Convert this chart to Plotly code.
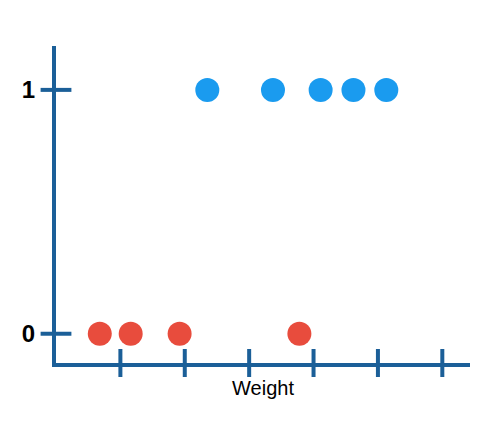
import plotly.graph_objects as go

red_x = [0.68, 1.16, 1.92, 3.78]
red_y = [0, 0, 0, 0]
blue_x = [2.35, 3.37, 4.11, 4.62, 5.13]
blue_y = [1, 1, 1, 1, 1]
x_ticks = [1, 2, 3, 4, 5, 6]
y_ticks = [0, 1]
y_labels = ["<b>0</b>", "<b>1</b>"]

axc = "#1b5f98"
xr = [0, 6.43]
yr = [-0.12, 1.18]

fig = go.Figure()
fig.add_trace(go.Scatter(x=red_x, y=red_y, mode="markers",
                         marker=dict(size=24, color="#e84c3d"), cliponaxis=False))
fig.add_trace(go.Scatter(x=blue_x, y=blue_y, mode="markers",
                         marker=dict(size=24, color="#1a9bef"), cliponaxis=False))
# crossing tick marks
fig.add_trace(go.Scatter(x=x_ticks, y=[yr[0]] * len(x_ticks), mode="markers", cliponaxis=False,
                         marker=dict(symbol="line-ns", size=20, line=dict(width=4, color=axc))))
fig.add_trace(go.Scatter(x=[xr[0]] * len(y_ticks), y=y_ticks, mode="markers", cliponaxis=False,
                         marker=dict(symbol="line-ew", size=22, line=dict(width=4, color=axc))))

fig.update_layout(
    width=498, height=429, showlegend=False,
    plot_bgcolor="white", paper_bgcolor="white",
    margin=dict(l=48, r=36, t=38, b=74),
    font=dict(family="Helvetica, Arial, Liberation Sans, sans-serif", color="black"),
)
fig.update_xaxes(range=xr, showgrid=False, zeroline=False, showline=True, linewidth=4,
                 linecolor=axc, tickvals=x_ticks, ticktext=[""] * len(x_ticks),
                 title=dict(text="Weight", font=dict(size=20), standoff=14))
fig.update_yaxes(range=yr, showgrid=False, zeroline=False, showline=True, linewidth=4,
                 linecolor=axc, tickvals=y_ticks, ticktext=y_labels,
                 tickfont=dict(size=24), ticklabelstandoff=12)
fig.write_html("out.html")
